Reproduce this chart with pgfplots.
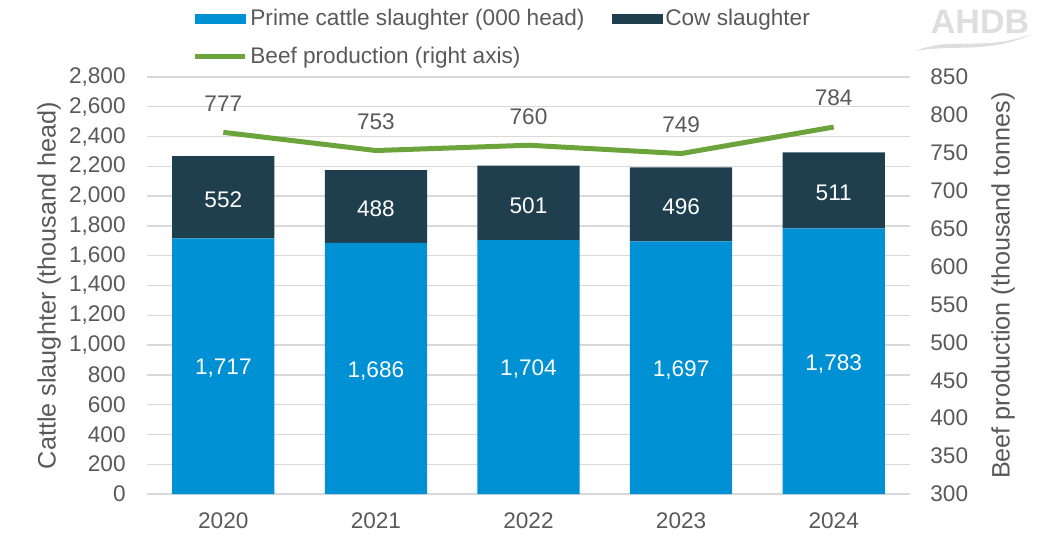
\documentclass[border=0pt]{standalone}
\usepackage{pgfplots}
\usepackage{pgfplotstable}
\usepackage{fontspec}
\setmainfont{Liberation Sans}
\pgfplotsset{compat=1.18}

\definecolor{primeblue}{HTML}{0090D4}
\definecolor{cowdark}{HTML}{1F3F4F}
\definecolor{beefgreen}{HTML}{6BA43A}
\definecolor{txtgray}{HTML}{595959}
\definecolor{gridgray}{HTML}{D9D9D9}
\definecolor{logogray}{HTML}{DEDEDE}

\newcommand\lbl{\fontsize{11.3}{13.5}\selectfont}
\newcommand\ttl{\fontsize{12.6}{15}\selectfont}

\pgfplotstableread{
x year prime cow beef
0 2020 1717 552 777
1 2021 1686 488 753
2 2022 1704 501 760
3 2023 1697 496 749
4 2024 1783 511 784
}\cattle

\pgfkeys{/pgf/number format/assume math mode=true,
         /pgf/number format/1000 sep={,}}

\pgfplotsset{
  frame/.style={
    at={(73.5pt,23pt)}, anchor=south west,
    width=381.5pt, height=208.5pt, scale only axis,
    xmin=-0.5, xmax=4.5,
  },
}

\begin{document}
\begin{tikzpicture}
\useasboundingbox (0,0) rectangle (521pt,270pt);

% stacked bars, left axis
\begin{axis}[frame,
  ybar stacked, bar width=0.67,
  ymin=0, ymax=2800, ytick distance=200,
  xtick=data, xticklabels={2020,2021,2022,2023,2024},
  axis line style={draw=none},
  major tick length=0pt,
  ymajorgrids, grid style={gridgray, line width=0.7pt},
  tick label style={font=\lbl, text=txtgray},
  yticklabel style={anchor=east, inner sep=0pt, xshift=-10.5pt},
  xticklabel style={anchor=north, inner sep=0pt, yshift=-9pt},
  scaled y ticks=false,
  ylabel={Cattle slaughter (thousand head)},
  ylabel style={at={([xshift=-49pt]axis description cs:0,0.5)}, anchor=center,
                font=\ttl, text=txtgray},
]
\addplot[fill=primeblue, draw=none] table[x=x, y=prime] {\cattle};
\addplot[fill=cowdark, draw=none] table[x=x, y=cow] {\cattle};
\end{axis}

% value labels inside the bar segments
\begin{axis}[frame, hide axis, ymin=0, ymax=2800,
  nodes near coords,
  every node near coord/.append style={anchor=center, yshift=-1.2pt,
    text=white, font=\lbl},
]
\addplot[draw=none, mark=none, point meta=explicit]
  table[x=x, y expr=\thisrow{prime}/2, meta=prime] {\cattle};
\addplot[draw=none, mark=none, point meta=explicit]
  table[x=x, y expr=\thisrow{prime}+\thisrow{cow}/2, meta=cow] {\cattle};
\end{axis}

% beef production line, right axis
\begin{axis}[frame,
  axis x line=none, axis y line*=right,
  ymin=300, ymax=850, ytick distance=50,
  axis line style={draw=none},
  major tick length=0pt,
  tick label style={font=\lbl, text=txtgray},
  yticklabel style={anchor=west, inner sep=0pt, xshift=10pt},
  ylabel={Beef production (thousand tonnes)},
  ylabel style={at={([xshift=46.5pt]axis description cs:1,0.5)}, anchor=center,
                font=\ttl, text=txtgray},
  legend columns=2,
  legend cell align=left,
  legend style={at={([xshift=22.5pt,yshift=35.5pt]axis description cs:0,1)},
    anchor=north west, draw=none, fill=none, inner sep=0pt,
    font=\lbl, text=txtgray, row sep=6pt,
    nodes={inner sep=1.5pt},
    /tikz/every even column/.append style={column sep=12pt}},
]
\addlegendimage{legend image code/.code={\fill[primeblue] (0pt,-2.25pt) rectangle (25pt,2.25pt);}}
\addlegendentry{Prime cattle slaughter (000 head)}
\addlegendimage{legend image code/.code={\fill[cowdark] (0pt,-2.25pt) rectangle (25pt,2.25pt);}}
\addlegendentry{Cow slaughter}
\addlegendimage{legend image code/.code={\draw[beefgreen, line width=2.5pt] (0pt,0pt) -- (25pt,0pt);}}
\addlegendentry{Beef production (right axis)}
\addplot[forget plot, beefgreen, line width=2.5pt, line join=round, mark=none,
  nodes near coords, point meta=explicit,
  every node near coord/.append style={anchor=center, yshift=14.5pt,
    text=txtgray, font=\lbl}]
  table[x=x, y=beef, meta=beef] {\cattle};
\end{axis}

% logo
\node[logogray, font=\fontsize{17}{17}\bfseries\selectfont, inner sep=0pt]
  at (490pt,259pt) {AHDB};
\fill[logogray] (458pt,244.5pt) .. controls (475pt,252pt) and (492pt,244pt) .. (516pt,253pt)
  .. controls (495pt,243pt) and (477pt,248pt) .. (458pt,244.5pt);
\end{tikzpicture}
\end{document}
